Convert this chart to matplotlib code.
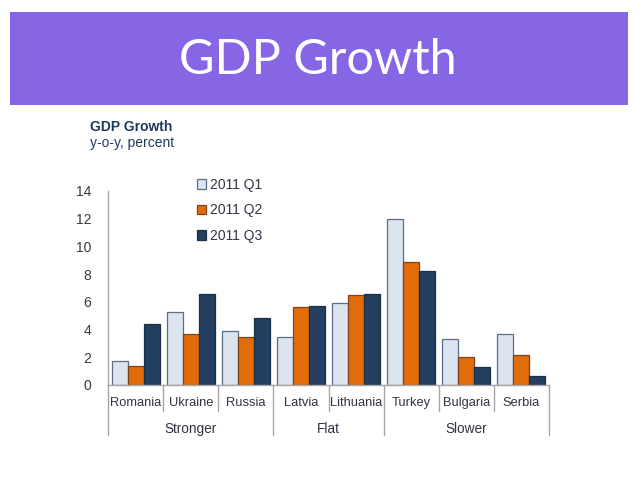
import matplotlib
matplotlib.use("Agg")
import matplotlib.pyplot as plt
from matplotlib.patches import Rectangle
import numpy as np

countries = ["Romania", "Ukraine", "Russia", "Latvia", "Lithuania", "Turkey", "Bulgaria", "Serbia"]
groups = ["Stronger", "Flat", "Slower"]
group_sizes = [3, 2, 3]
series_names = ["2011 Q1", "2011 Q2", "2011 Q3"]
q1 = [1.7, 5.3, 3.9, 3.5, 5.9, 12.0, 3.3, 3.7]
q2 = [1.4, 3.7, 3.5, 5.6, 6.5, 8.85, 2.0, 2.2]
q3 = [4.4, 6.6, 4.8, 5.7, 6.6, 8.2, 1.3, 0.65]
yticks = [0, 2, 4, 6, 8, 10, 12, 14]

W, H = 638, 479
fig = plt.figure(figsize=(W / 100, H / 100), dpi=100)
plt.rcParams['font.family'] = ['Liberation Sans', 'DejaVu Sans']

# Banner
fig.patches.append(Rectangle((10 / W, 1 - 105 / H), 618 / W, 93 / H,
                             transform=fig.transFigure, facecolor="#8766E6",
                             edgecolor="none", zorder=0))
fig.text(318 / W, 1 - 60 / H, "GDP Growth", color="white", fontsize=35,
         ha="center", va="center", family=["Lato", "DejaVu Sans"])

# Axes
x0, x1, ytop, ybot = 108, 549, 191, 385
ax = fig.add_axes([x0 / W, 1 - ybot / H, (x1 - x0) / W, (ybot - ytop) / H])
x = np.arange(len(countries))
bw = 0.29
cols = ["#DCE4F0", "#E36C0A", "#243F60"]
edges = ["#5C6E86", "#7A4420", "#1B2F48"]
for i, (vals, c, e, n) in enumerate(zip([q1, q2, q3], cols, edges, series_names)):
    ax.bar(x + (i - 1) * bw, vals, bw, color=c, edgecolor=e, linewidth=0.9, label=n, zorder=2)

ax.set_xlim(-0.5, len(countries) - 0.5)
ax.set_ylim(0, 14)
ax.set_yticks(yticks)
ax.set_yticklabels([str(t) for t in yticks], fontsize=10, color="#3A3A3A")
ax.tick_params(axis="y", length=0, pad=12)
ax.set_xticks([])
for s in ["top", "right"]:
    ax.spines[s].set_visible(False)
for s in ["left", "bottom"]:
    ax.spines[s].set_color("#A6A6A6")
    ax.spines[s].set_linewidth(1.0)

axh = ybot - ytop
tr = ax.get_xaxis_transform()
# category labels and separators
for i, c in enumerate(countries):
    ax.text(i, -18 / axh, c, transform=tr, ha="center", va="center",
            fontsize=9.3, color="#333344")
bounds = np.cumsum([0] + group_sizes)
for b in range(1, len(countries)):
    if b in bounds:
        continue
    ax.plot([b - 0.5, b - 0.5], [0, -26 / axh], transform=tr, color="#A6A6A6",
            lw=1.0, clip_on=False)
for b in bounds:
    ax.plot([b - 0.5, b - 0.5], [0, -50 / axh], transform=tr, color="#A6A6A6",
            lw=1.0, clip_on=False)
for g, a, b in zip(groups, bounds[:-1], bounds[1:]):
    ax.text((a + b - 1) / 2, -44 / axh, g, transform=tr, ha="center", va="center",
            fontsize=9.8, color="#333344")

# Chart title
fig.text(90 / W, 1 - 127 / H, "GDP Growth", fontsize=10, fontweight="bold",
         color="#1F3A5F", ha="left", va="center")
fig.text(90 / W, 1 - 143 / H, "y-o-y, percent", fontsize=10,
         color="#1F3A5F", ha="left", va="center")

leg = ax.legend(loc="upper left", bbox_to_anchor=((191 - x0) / (x1 - x0), (ybot - 172) / axh),
                frameon=False, fontsize=10, handlelength=0.7, handleheight=0.7,
                handletextpad=0.3, labelspacing=0.85, borderaxespad=0)
for t in leg.get_texts():
    t.set_color("#333344")

fig.savefig("out.png", dpi=100)
